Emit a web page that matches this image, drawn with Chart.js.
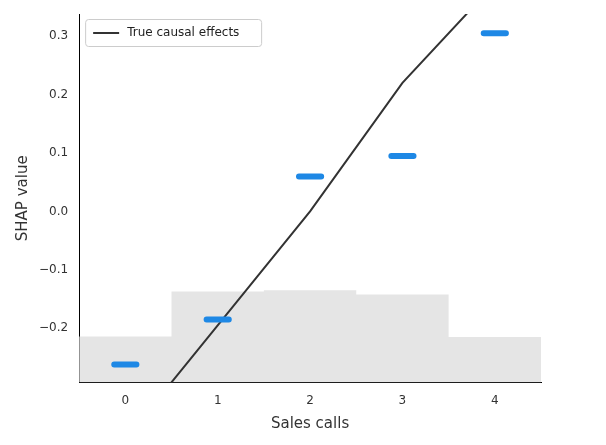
<!DOCTYPE html>
<html><head><meta charset="utf-8">
<script src="https://cdn.jsdelivr.net/npm/chart.js@4"></script>
<style>body{margin:0;background:#fff}#c{display:block}</style>
</head><body>
<div style="width:606px;height:445px"><canvas id="c"></canvas></div>
<script>
const categories = [0, 1, 2, 3, 4];
const histTops = [-0.214, -0.137, -0.135, -0.142, -0.215];
const trueEffect = [-0.39, -0.195, 0.0, 0.22, 0.39];
const shapValues = [-0.262, -0.185, 0.06, 0.095, 0.305];
const yTicks = [-0.2, -0.1, 0.0, 0.1, 0.2, 0.3];
const Y_MIN = -0.293, Y_MAX = 0.338;

// histogram as stepped fill from bottom
const histPts = [];
categories.forEach((c, i) => {
  histPts.push({ x: c - 0.5, y: histTops[i] });
  histPts.push({ x: c + 0.5, y: histTops[i] });
});
// short dashes for shap values
const dashPts = [];
categories.forEach((c, i) => {
  dashPts.push({ x: c - 0.12, y: shapValues[i] });
  dashPts.push({ x: c + 0.12, y: shapValues[i] });
  dashPts.push({ x: c, y: null });
});

const legendBox = {
  id: "legendBox",
  afterDraw(chart) {
    const { ctx, chartArea: a } = chart;
    ctx.save();
    ctx.fillStyle = "#fff";
    ctx.strokeStyle = "#ccc";
    ctx.lineWidth = 1;
    ctx.beginPath();
    ctx.roundRect(a.left + 6.5, a.top + 5.5, 176, 27, 3);
    ctx.fill(); ctx.stroke();
    ctx.strokeStyle = "#333"; ctx.lineWidth = 2;
    ctx.beginPath(); ctx.moveTo(a.left + 14, a.top + 19); ctx.lineTo(a.left + 40, a.top + 19); ctx.stroke();
    ctx.fillStyle = "#222"; ctx.font = "12px 'DejaVu Sans'"; ctx.textBaseline = "middle";
    ctx.fillText("True causal effects", a.left + 48, a.top + 19);
    ctx.restore();
  }
};

new Chart(document.getElementById("c"), {
  type: "line",
  data: {
    datasets: [
      { data: histPts, borderWidth: 0, pointRadius: 0, fill: "start", backgroundColor: "#e5e5e5", order: 3 },
      { data: categories.map((c, i) => ({ x: c, y: trueEffect[i] })), borderColor: "#333", borderWidth: 2, pointRadius: 0, fill: false, order: 2 },
      { data: dashPts, borderColor: "#1e88e5", borderWidth: 6, borderCapStyle: "round", pointRadius: 0, spanGaps: false, fill: false, order: 1 }
    ]
  },
  options: {
    responsive: true, maintainAspectRatio: false, animation: false,
    layout: { padding: { left: 10, right: 65, top: 14, bottom: 8 } },
    plugins: { legend: { display: false }, tooltip: { enabled: false } },
    scales: {
      x: {
        type: "linear", min: -0.5, max: 4.5,
        afterBuildTicks: s => { s.ticks = categories.map(v => ({ value: v })); },
        grid: { display: false, drawTicks: true },
        border: { color: "#000", width: 1 },
        ticks: { color: "#333", font: { size: 12, family: "DejaVu Sans" } },
        title: { display: true, text: "Sales calls", color: "#333", font: { size: 15, family: "DejaVu Sans" } }
      },
      y: {
        min: Y_MIN, max: Y_MAX,
        afterBuildTicks: s => { s.ticks = yTicks.map(v => ({ value: v })); },
        grid: { display: false },
        border: { color: "#000", width: 1 },
        ticks: { color: "#333", font: { size: 12, family: "DejaVu Sans" }, callback: v => (v < 0 ? "\u2212" + Math.abs(v).toFixed(1) : v.toFixed(1)) },
        title: { display: true, text: "SHAP value", color: "#333", font: { size: 15, family: "DejaVu Sans" } }
      }
    }
  },
  plugins: [legendBox]
});
</script>
</body></html>
